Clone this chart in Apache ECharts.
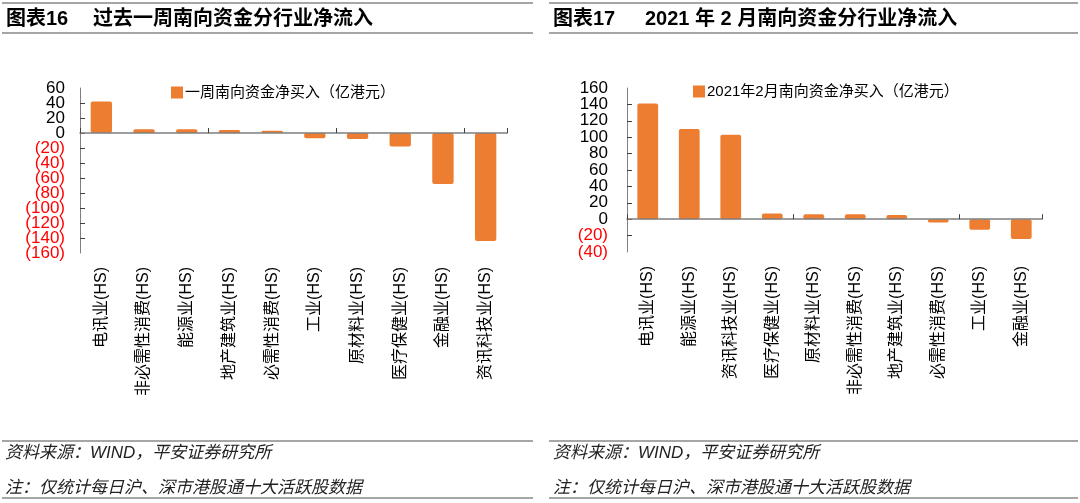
<!DOCTYPE html>
<html>
<head>
<meta charset="utf-8">
<script src="https://cdn.jsdelivr.net/npm/echarts@6/dist/echarts.min.js"></script>
<style>
  html, body { margin: 0; padding: 0; background: #fff; }
  #main { width: 1080px; height: 503px; }
</style>
</head>
<body>
<div id="main"></div>
<script>
// 图表16 过去一周
const leftCategories = ['电讯业(HS)', '非必需性消费(HS)', '能源业(HS)', '地产建筑业(HS)', '必需性消费(HS)',
  '工业(HS)', '原材料业(HS)', '医疗保健业(HS)', '金融业(HS)', '资讯科技业(HS)'];
const leftValues = [42, 5, 5, 4, 3, -7, -8, -18, -68, -144];
const leftLegend = '一周南向资金净买入（亿港元）';

// 图表17 2021年2月
const rightCategories = ['电讯业(HS)', '能源业(HS)', '资讯科技业(HS)', '医疗保健业(HS)', '原材料业(HS)',
  '非必需性消费(HS)', '地产建筑业(HS)', '必需性消费(HS)', '工业(HS)', '金融业(HS)'];
const rightValues = [141, 110, 103, 7, 6, 6, 5, -4, -13, -24];
const rightLegend = '2021年2月南向资金净买入（亿港元）';

const FONT = '"Liberation Sans", Arial, "Noto Sans CJK SC", sans-serif';
const ORANGE = '#ED7D31';
const LINE_GRAY = '#a6a6a6';

const chart = echarts.init(document.getElementById('main'));

function yLabel(v) {
  if (v < 0) return '{neg|(' + (-v) + ')}';
  return '{pos|' + v + '}';
}

const yRich = {
  pos: { color: '#000', fontSize: 17, fontFamily: FONT },
  neg: { color: '#ff0000', fontSize: 17, fontFamily: FONT }
};

// main axis: line, ticks, inner labels
function makeY(gridIndex, min, max, margin) {
  return {
    type: 'value', gridIndex: gridIndex, min: min, max: max, interval: 20, position: 'left',
    splitLine: { show: false },
    axisLine: { show: true, lineStyle: { color: '#808080', width: 1 } },
    axisTick: { show: true, inside: true, length: 5, lineStyle: { color: '#404040' } },
    axisLabel: {
      formatter: yLabel, margin: margin,
      showMinLabel: false, showMaxLabel: false, rich: yRich
    }
  };
}

// helper axis: only end labels (the overlap check would drop them otherwise)
function makeYEnds(gridIndex, min, max, margin) {
  return {
    type: 'value', gridIndex: gridIndex, min: min, max: max, interval: 20, position: 'left',
    splitLine: { show: false }, axisLine: { show: false }, axisTick: { show: false },
    axisLabel: {
      margin: margin, showMinLabel: true, showMaxLabel: true, rich: yRich,
      formatter: function (v) { return (v === min || v === max) ? yLabel(v) : ''; }
    }
  };
}

// zero line axis (ticks only) + bottom label axis
function makeX(gridIndex, cats) {
  return [{
    type: 'category', gridIndex: gridIndex, data: cats, position: 'bottom', z: 5,
    axisLine: { onZero: true, lineStyle: { color: '#7f7f7f', width: 1.5 } },
    axisTick: { show: true, inside: true, length: 5, lineStyle: { color: '#404040' } },
    axisLabel: { show: false }
  }, {
    type: 'category', gridIndex: gridIndex, data: cats, position: 'bottom',
    axisLine: { show: false, onZero: false },
    axisTick: { show: false },
    axisLabel: {
      rotate: 90, margin: 14, interval: 0, color: '#000',
      fontSize: 16, fontFamily: FONT
    }
  }];
}

function txt(x, y, s, size, opts) {
  return {
    type: 'text', x: x, y: y, silent: true,
    style: Object.assign({
      text: s, fontSize: size, fontFamily: FONT, fill: '#000', verticalAlign: 'middle'
    }, opts || {})
  };
}

function hline(x1, x2, y) {
  return {
    type: 'line', silent: true,
    shape: { x1: x1, y1: y, x2: x2, y2: y },
    style: { stroke: LINE_GRAY, lineWidth: 2 }
  };
}

const option = {
  animation: false,
  grid: [
    { left: 80, top: 88, width: 427, height: 165 },
    { left: 627, top: 88, width: 415, height: 164 }
  ],
  legend: [{
    data: [leftLegend], left: 166, top: 80,
    itemWidth: 12, itemHeight: 12, itemGap: 0,
    textStyle: { fontSize: 15, fontFamily: FONT, color: '#000', padding: [0, 0, 0, -3] },
    icon: 'rect'
  }, {
    data: [rightLegend], left: 688, top: 79,
    itemWidth: 12, itemHeight: 12, itemGap: 0,
    textStyle: { fontSize: 15, fontFamily: FONT, color: '#000', padding: [0, 0, 0, -3] },
    icon: 'rect'
  }],
  xAxis: makeX(0, leftCategories).concat(makeX(1, rightCategories)),
  yAxis: [
    makeY(0, -160, 60, 15), makeY(1, -40, 160, 19),
    makeYEnds(0, -160, 60, 15), makeYEnds(1, -40, 160, 19)
  ],
  series: [{
    name: leftLegend, type: 'bar', xAxisIndex: 0, yAxisIndex: 0,
    data: leftValues, barWidth: '50%',
    itemStyle: { color: ORANGE, borderRadius: 2 }
  }, {
    name: rightLegend, type: 'bar', xAxisIndex: 2, yAxisIndex: 1,
    data: rightValues, barWidth: '50%',
    itemStyle: { color: ORANGE, borderRadius: 2 }
  }],
  graphic: [
    hline(2, 533, 3), hline(2, 533, 33),
    hline(549, 1078, 3), hline(549, 1078, 33),
    hline(2, 533, 441), hline(2, 533, 498),
    hline(549, 1078, 441), hline(549, 1078, 498),
    txt(6, 19, '图表16', 20, { fontWeight: 'bold' }),
    txt(93, 19, '过去一周南向资金分行业净流入', 20, { fontWeight: 'bold' }),
    txt(553, 19, '图表17', 20, { fontWeight: 'bold' }),
    txt(645, 19, '2021 年 2 月南向资金分行业净流入', 20, { fontWeight: 'bold' }),
    txt(5, 453, '资料来源：WIND，平安证券研究所', 17, { fontStyle: 'italic', fill: '#222' }),
    txt(5, 488, '注：仅统计每日沪、深市港股通十大活跃股数据', 17, { fontStyle: 'italic', fill: '#222' }),
    txt(553, 453, '资料来源：WIND，平安证券研究所', 17, { fontStyle: 'italic', fill: '#222' }),
    txt(553, 488, '注：仅统计每日沪、深市港股通十大活跃股数据', 17, { fontStyle: 'italic', fill: '#222' })
  ]
};

chart.setOption(option);
</script>
</body>
</html>
